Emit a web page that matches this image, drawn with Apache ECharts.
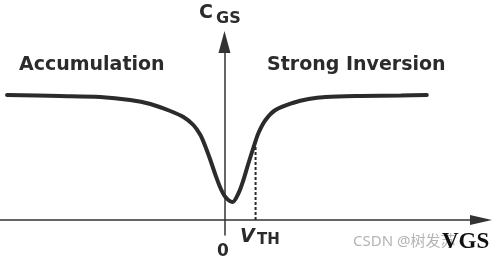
<!DOCTYPE html>
<html>
<head>
<meta charset="utf-8">
<script src="https://cdn.jsdelivr.net/npm/echarts@6/dist/echarts.min.js"></script>
<style>html,body{margin:0;padding:0;background:#fff;}#c{width:500px;height:262px;}</style>
</head>
<body>
<div id="c"></div>
<script>
// VGS (arbitrary units) and CGS (arbitrary units)
const vgs = [-6.78, -5.125, -3.875, -2.94, -2.31, -1.69, -1.28, -0.97, -0.75, -0.59, -0.44, -0.28, -0.125, 0.03, 0.25, 0.44, 0.59, 0.75, 0.91, 1.06, 1.28, 1.59, 2.125, 2.625, 3.16, 4.25, 5.5, 6.31];
const cgs = [1.25, 1.24, 1.23, 1.20, 1.16, 1.09, 1.03, 0.95, 0.85, 0.73, 0.60, 0.45, 0.32, 0.23, 0.18, 0.27, 0.40, 0.57, 0.73, 0.87, 1.00, 1.10, 1.17, 1.21, 1.23, 1.24, 1.245, 1.25];
const vth = 0.97;
const cAtVth = 0.74;
const regionLabels = ['Accumulation', 'Strong Inversion'];

const chart = echarts.init(document.getElementById('c'), null, {renderer: 'canvas'});
const ink = '#2b2b2b';
const fam = '"DejaVu Sans", sans-serif';
function txt(left, top, text, size, extra) {
  return {type: 'text', left: left, top: top, style: Object.assign({text: text, fontFamily: fam, fontWeight: 'bold', fontSize: size, fill: ink}, extra || {})};
}

chart.setOption({
  animation: false,
  backgroundColor: '#ffffff',
  grid: {left: 0, right: 19, top: 42, bottom: 27, containLabel: false},
  xAxis: {
    type: 'value', min: -7, max: 8,
    axisLine: {show: true, onZero: true, symbol: ['none', 'triangle'], symbolSize: [10, 22], lineStyle: {color: '#333', width: 1.5}},
    axisTick: {show: false}, axisLabel: {show: false}, splitLine: {show: false}
  },
  yAxis: {
    type: 'value', min: -0.15, max: 1.78,
    axisLine: {show: true, onZero: true, symbol: ['none', 'triangle'], symbolSize: [12, 22], lineStyle: {color: '#333', width: 1.5}},
    axisTick: {show: false}, axisLabel: {show: false}, splitLine: {show: false}
  },
  series: [
    {
      type: 'line', smooth: 0.3, showSymbol: false,
      data: vgs.map((v, i) => [v, cgs[i]]),
      lineStyle: {color: ink, width: 4, cap: 'round'}
    },
    {
      type: 'line', showSymbol: false,
      data: [[vth, 0], [vth, cAtVth]],
      lineStyle: {color: ink, width: 2, type: [3, 2]}
    }
  ],
  graphic: [
    txt(19, 56, regionLabels[0], 19),
    txt(267, 56, regionLabels[1], 19),
    txt(199, 4, 'C', 19),
    txt(216, 11, 'GS', 16),
    txt(217, 243, '0', 17),
    txt(240, 228, 'V', 19, {fontStyle: 'italic'}),
    txt(257, 233, 'TH', 15),
    {type: 'text', left: 353, top: 234, style: {text: 'CSDN @树发苏', fontFamily: '"Noto Sans", "Noto Sans CJK SC", sans-serif', fontSize: 15, fill: '#b4b4b4'}},
    {type: 'text', left: 442, top: 231, style: {text: 'VGS', fontFamily: '"Liberation Serif", serif', fontWeight: 'bold', fontSize: 23, fill: '#111'}}
  ]
});
</script>
</body>
</html>
